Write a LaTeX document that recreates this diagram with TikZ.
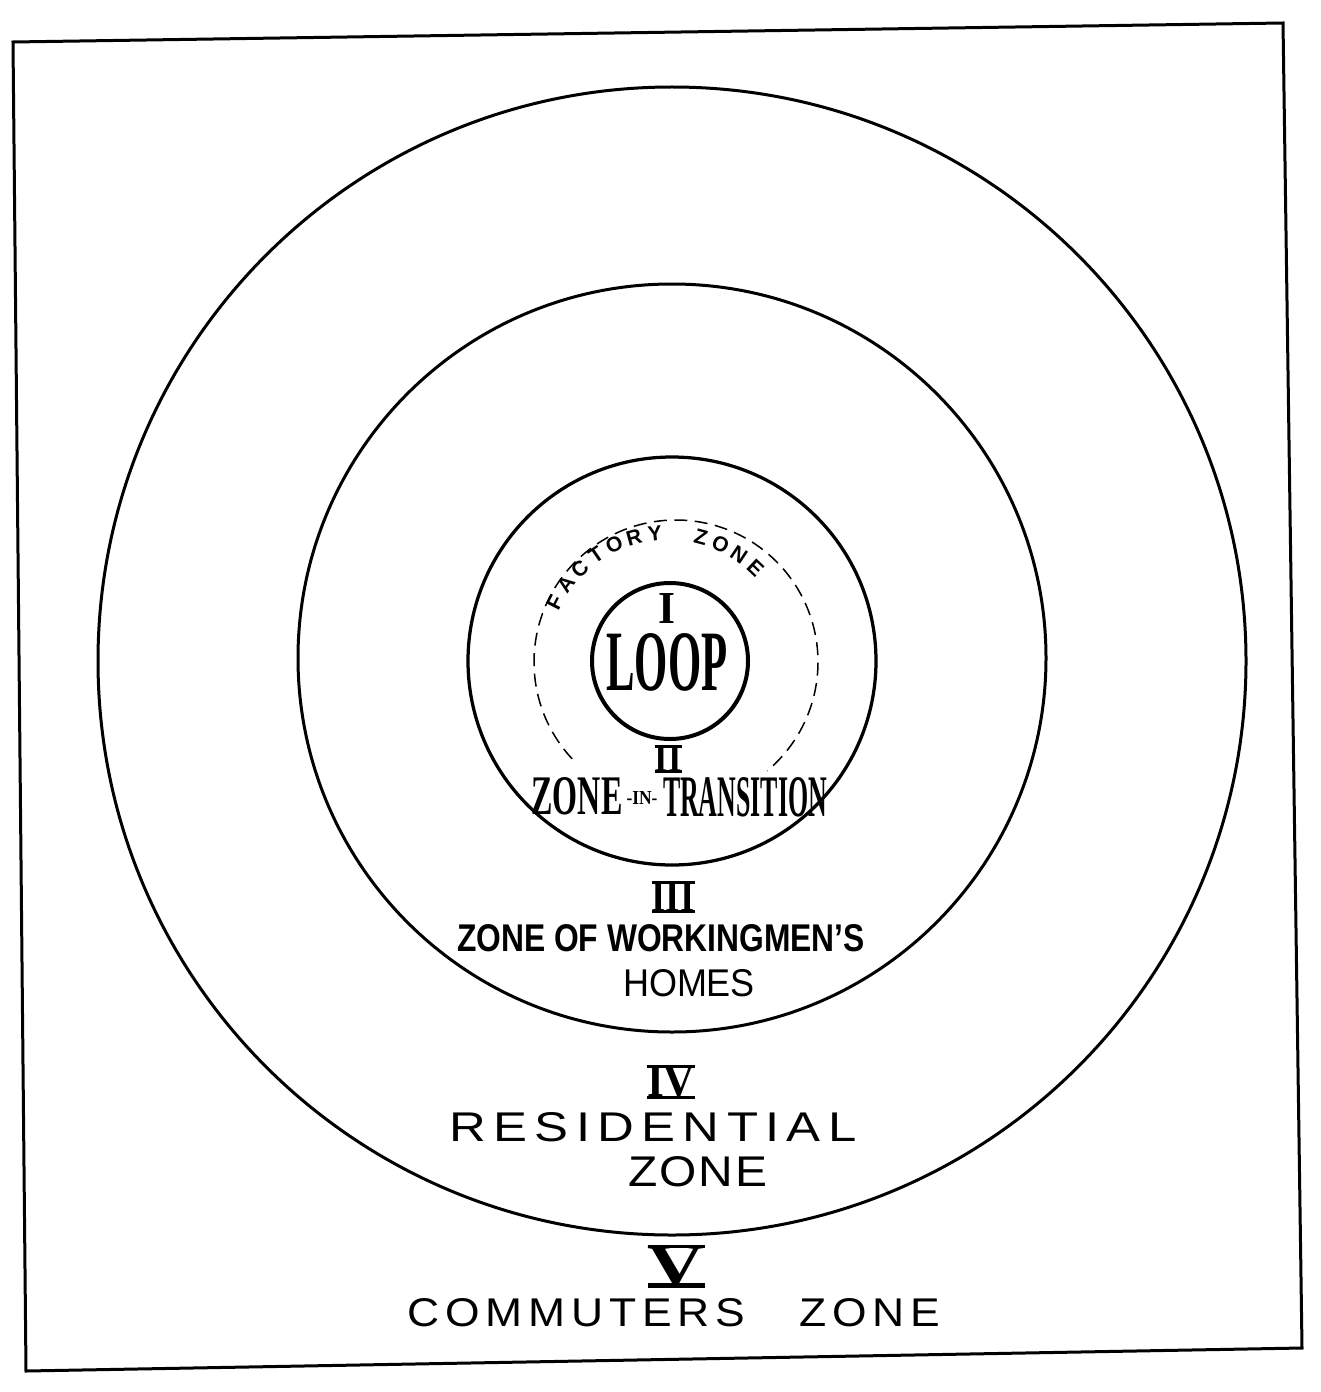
\documentclass[tikz,border=0pt]{standalone}
\usepackage{fontspec}
\setmainfont{Liberation Serif}
\setsansfont{Liberation Sans}
\usepackage{graphicx}
\newcommand\fitto[3]{\resizebox{#1}{#2}{#3}}
\newcommand\spreadto[2]{\makebox[#1][s]{#2}}
\tikzset{
  ring/.style={line width=0.06cm},
  lbl/.style={inner sep=0pt, outer sep=0pt},
  numbar/.style={line width=0.07cm, line cap=butt},
  arcletter/.style={inner sep=0pt, outer sep=0pt, font=\sffamily\bfseries\fontsize{12}{14}\selectfont},
}
\begin{document}
\begin{tikzpicture}[x=0.02cm,y=-0.02cm]
\useasboundingbox (0,0) rectangle (1320,1392);
% frame
\coordinate (tl) at (13,42);
\coordinate (tr) at (1283,23);
\coordinate (br) at (1302,1348);
\coordinate (bl) at (26,1371);
\draw[line width=0.06cm, line join=miter] (tl) -- (tr) -- (br) -- (bl) -- cycle;
% rings
\draw[ring] (672,661) circle[radius=574];
\draw[ring] (672,658) circle[radius=374];
\draw[ring, line width=0.065cm] (672,661) circle[radius=204];
\coordinate (dstart) at ({676+142*cos(137)},{662+142*sin(137)});
\draw[line width=0.03cm, dash pattern=on 0.26cm off 0.15cm] (dstart) arc[start angle=137, end angle=410, radius=142];
\draw[line width=0.08cm] (670,661) circle[radius=78];
% factory zone arc text
\foreach \l/\a [count=\i] in {F/153,A/143.5,C/134,T/124.5,O/115,R/105.5,Y/96,Z/75,O/65.5,N/56,E/46.5}
  \node[arcletter, rotate=\a-90] (fz\i) at ({668+127*cos(\a)},{660-127*sin(\a)}) {\l};
% I LOOP
\node[lbl] (one) at (667,608) {\fitto{0.34cm}{0.6cm}{\bfseries I}};
\node[lbl] (loop) at (667,662) {\fitto{2.42cm}{1.14cm}{\bfseries LOOP}};
% II zone in transition
\node[lbl] (two) at (668,759) {\fitto{0.54cm}{0.5cm}{\bfseries II}};
\draw[numbar] (two.north west) -- (two.north east);
\draw[numbar] (two.south west) -- (two.south east);
\node[lbl] (zt1) at (577,796) {\fitto{1.82cm}{0.74cm}{\bfseries ZONE}};
\node[lbl] (zt2) at (642,798) {\fitto{0.62cm}{0.26cm}{\bfseries -IN-}};
\node[lbl] (zt3) at (745,797) {\fitto{3.28cm}{0.78cm}{\bfseries TRANSITION}};
% III
\node[lbl] (three) at (673,897) {\fitto{0.86cm}{0.58cm}{\bfseries III}};
\draw[numbar] (three.north west) -- (three.north east);
\draw[numbar] (three.south west) -- (three.south east);
\node[lbl] (wm1) at (661,938) {\fitto{8.16cm}{0.54cm}{\sffamily\bfseries ZONE OF WORKINGMEN'S}};
\node[lbl] (wm2) at (689,983) {\fitto{2.64cm}{0.54cm}{\sffamily HOMES}};
% IV
\node[lbl] (four) at (671,1082) {\fitto{0.96cm}{0.6cm}{\bfseries IV}};
\draw[numbar] (four.north west) -- (four.north east);
\draw[numbar] (four.south west) -- (four.south east);
\node[lbl] (res1) at (653,1127) {\fitto{8.14cm}{0.58cm}{\sffamily\spreadto{8em}{R\hfil E\hfil S\hfil I\hfil D\hfil E\hfil N\hfil T\hfil I\hfil A\hfil L}}};
\node[lbl] (res2) at (698,1172) {\fitto{2.78cm}{0.6cm}{\sffamily\spreadto{2.9em}{Z\hfil O\hfil N\hfil E}}};
% V
\node[lbl] (five) at (676,1266) {\fitto{1.14cm}{0.76cm}{\bfseries V}};
\draw[numbar] (five.north west) -- (five.north east);
\draw[numbar, line width=0.09cm] (five.south west) -- (five.south east);
\node[lbl] (com) at (674,1313) {\fitto{10.66cm}{0.56cm}{\sffamily\spreadto{12em}{C\hfil O\hfil M\hfil M\hfil U\hfil T\hfil E\hfil R\hfil S\hspace{1.1em}\hfil Z\hfil O\hfil N\hfil E}}};
\end{tikzpicture}
\end{document}
